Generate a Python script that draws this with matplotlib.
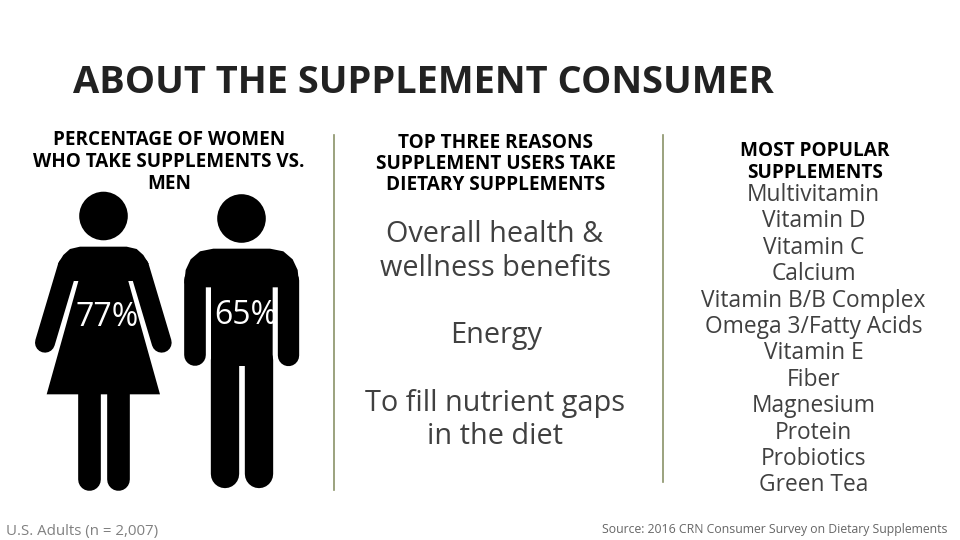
import matplotlib
matplotlib.use('Agg')
import matplotlib.pyplot as plt
from matplotlib.patches import Circle, Polygon

plt.rcParams['font.family'] = ['Open Sans', 'DejaVu Sans']

title = 'ABOUT THE SUPPLEMENT CONSUMER'
head_women_men = ['PERCENTAGE OF WOMEN', 'WHO TAKE SUPPLEMENTS VS.', 'MEN']
head_reasons = ['TOP THREE REASONS', 'SUPPLEMENT USERS TAKE', 'DIETARY SUPPLEMENTS']
head_popular = ['MOST POPULAR', 'SUPPLEMENTS']
reasons = [['Overall health &', 'wellness benefits'], ['Energy'], ['To fill nutrient gaps', 'in the diet']]
supplements = ['Multivitamin', 'Vitamin D', 'Vitamin C', 'Calcium', 'Vitamin B/B Complex',
               'Omega 3/Fatty Acids', 'Vitamin E', 'Fiber', 'Magnesium', 'Protein',
               'Probiotics', 'Green Tea']
women_pct = '77%'
men_pct = '65%'
sample_note = 'U.S. Adults (n = 2,007)'
source_note = 'Source: 2016 CRN Consumer Survey on Dietary Supplements'

fig = plt.figure(figsize=(9.6, 5.4), dpi=100)
ax = fig.add_axes([0, 0, 1, 1])
ax.set_xlim(0, 960)
ax.set_ylim(540, 0)
ax.axis('off')


# shapes were measured on a 3x crop starting at y=180
def zc(pts):
    return [(x / 3, 180 + y / 3) for x, y in pts]


def shape(pts):
    ax.add_patch(Polygon(zc(pts), closed=True, fc='black', ec='none'))


def limb(p0, p1, width):
    # width is in crop pixels, lw wants points
    (x0, y0), (x1, y1) = zc([p0, p1])
    ax.plot([x0, x1], [y0, y1], color='black', lw=width / 3 * 0.72, solid_capstyle='round')


def text_lines(lines, x, y, step, size, **kw):
    for i, s in enumerate(lines):
        ax.text(x, y + i * step, s, ha='center', va='center', fontsize=size, **kw)


# woman
ax.add_patch(Circle((103.5, 216), 24.3, fc='black', ec='none'))
shape([(240, 200), (380, 200), (410, 207), (430, 225), (446, 251), (398, 303),
       (222, 303), (174, 251), (190, 225), (210, 207)])
limb((417, 260), (485, 488), 60)
limb((203, 260), (135, 488), 60)
shape([(236, 300), (384, 300), (480, 643), (140, 643)])
limb((266, 640), (266, 896), 68)
limb((354, 640), (354, 896), 68)

# man
ax.add_patch(Circle((241.5, 218.5), 24.3, fc='black', ec='none'))
shape([(640, 206), (810, 206), (850, 214), (878, 238), (893, 270), (897, 310), (833, 322),
       (818, 322), (818, 558), (633, 558), (633, 322), (618, 322), (553, 310), (557, 270),
       (572, 238), (600, 214)])
limb((585, 300), (585, 526), 65)
limb((865, 300), (865, 526), 64)
limb((675, 540), (675, 881), 85)
limb((776, 540), (776, 881), 85)

ax.text(107.5, 317, women_pct, color='white', ha='center', va='center', fontsize=23)
ax.text(245.5, 316, men_pct, color='white', ha='center', va='center', fontsize=23)

# dividers
ax.plot([333.5, 333.5], [135, 490], color='#8a9268', lw=1.2)
ax.plot([663, 663], [135, 482], color='#8a9268', lw=1.2)

ax.text(73, 83, title, ha='left', va='center', fontsize=27.4, fontweight='bold', color='#222222')

text_lines(head_women_men, 169, 140, 22, 13.6, fontweight='bold', color='black')
text_lines(head_reasons, 495.5, 142.5, 21.5, 13.7, fontweight='bold', color='black')
text_lines(head_popular, 815, 151, 22, 13.7, fontweight='bold', color='black')

reason_color = '#404040'
text_lines(reasons[0], 495, 235, 34, 20.8, color=reason_color)
text_lines(reasons[1], 496, 336, 34, 20.8, color=reason_color)
text_lines(reasons[2], 495, 403, 34, 20.8, color=reason_color)

text_lines(supplements, 813.5, 195, 26.4, 16.4, color=reason_color)

ax.text(6, 531, sample_note, ha='left', va='center', fontsize=10.8, color='#808080')
ax.text(948, 530, source_note, ha='right', va='center', fontsize=8.85, color='#666666')

fig.savefig('out.png', dpi=100)
